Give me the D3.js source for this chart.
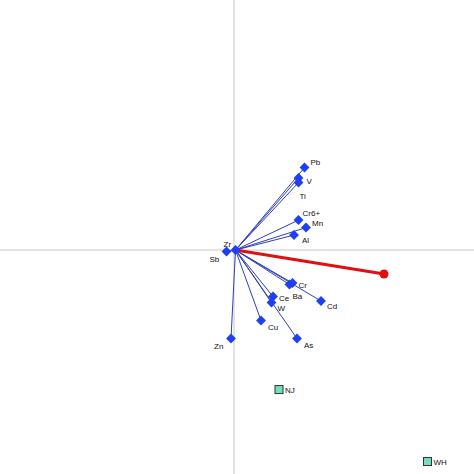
<!DOCTYPE html><html><head><script src="https://cdn.jsdelivr.net/npm/d3@7"></script>
<style>body{margin:0;background:#fff}</style></head><body><svg id="c" width="474" height="474"></svg>
<script>
const names=["Pb","V","Ti","Cr6+","Mn","Al","Zr","Sb","Cr","Ba","Cd","Ce","W","Cu","Zn","As"];
const xs=[0.47,0.43,0.43,0.43,0.48,0.40,0.01,-0.05,0.39,0.37,0.58,0.26,0.25,0.18,-0.02,0.42];
const ys=[0.55,0.48,0.45,0.20,0.15,0.10,0,-0.01,-0.22,-0.23,-0.34,-0.31,-0.35,-0.47,-0.59,-0.59];
const lab=[[6,-3],[8,6],[1,16],[4,-4],[6,-2],[8,8],[-12,-3],[-17,10],[6,5],[3,14],[6,8],[6,4],[6,8],[7,9],[-17,10],[7,9]];
const vecEnd=[1.0,-0.16];
const sites=["NJ","WH"], sx=[0.30,1.29], sy=[-0.93,-1.41];
const x=d3.scaleLinear().domain([-1.56,1.6]).range([0,474]);
const y=d3.scaleLinear().domain([1.667,-1.493]).range([0,474]);
const svg=d3.select("#c");
svg.append("line").attr("x1",x(0)).attr("x2",x(0)).attr("y1",0).attr("y2",474).attr("stroke","#c8c8c8");
svg.append("line").attr("y1",y(0)).attr("y2",y(0)).attr("x1",0).attr("x2",474).attr("stroke","#c8c8c8");
const o=[xs[6],ys[6]];
names.forEach((n,i)=>{
 svg.append("line").attr("x1",x(o[0])).attr("y1",y(o[1])).attr("x2",x(xs[i])).attr("y2",y(ys[i])).attr("stroke","#3040b8").attr("stroke-width",1);
});
svg.append("line").attr("x1",x(o[0])).attr("y1",y(o[1])).attr("x2",x(vecEnd[0])).attr("y2",y(vecEnd[1])).attr("stroke","#e01010").attr("stroke-width",3);
svg.append("circle").attr("cx",x(vecEnd[0])).attr("cy",y(vecEnd[1])).attr("r",4.5).attr("fill","#e01010");
names.forEach((n,i)=>{
 svg.append("rect").attr("x",-3.5).attr("y",-3.5).attr("width",7).attr("height",7).attr("fill","#1f3ff0")
  .attr("transform",`translate(${x(xs[i])},${y(ys[i])}) rotate(45)`);
 svg.append("text").attr("x",x(xs[i])+lab[i][0]).attr("y",y(ys[i])+lab[i][1]).text(n)
  .attr("font-family","Arial, Liberation Sans").attr("font-size",8).attr("fill","#111");
});
sites.forEach((s,i)=>{
 svg.append("rect").attr("x",x(sx[i])-4).attr("y",y(sy[i])-4).attr("width",8).attr("height",8).attr("fill","#6ee0c0").attr("stroke","#333");
 svg.append("text").attr("x",x(sx[i])+6).attr("y",y(sy[i])+3).text(s).attr("font-family","Arial, Liberation Sans").attr("font-size",8).attr("fill","#111");
});
</script></body></html>
